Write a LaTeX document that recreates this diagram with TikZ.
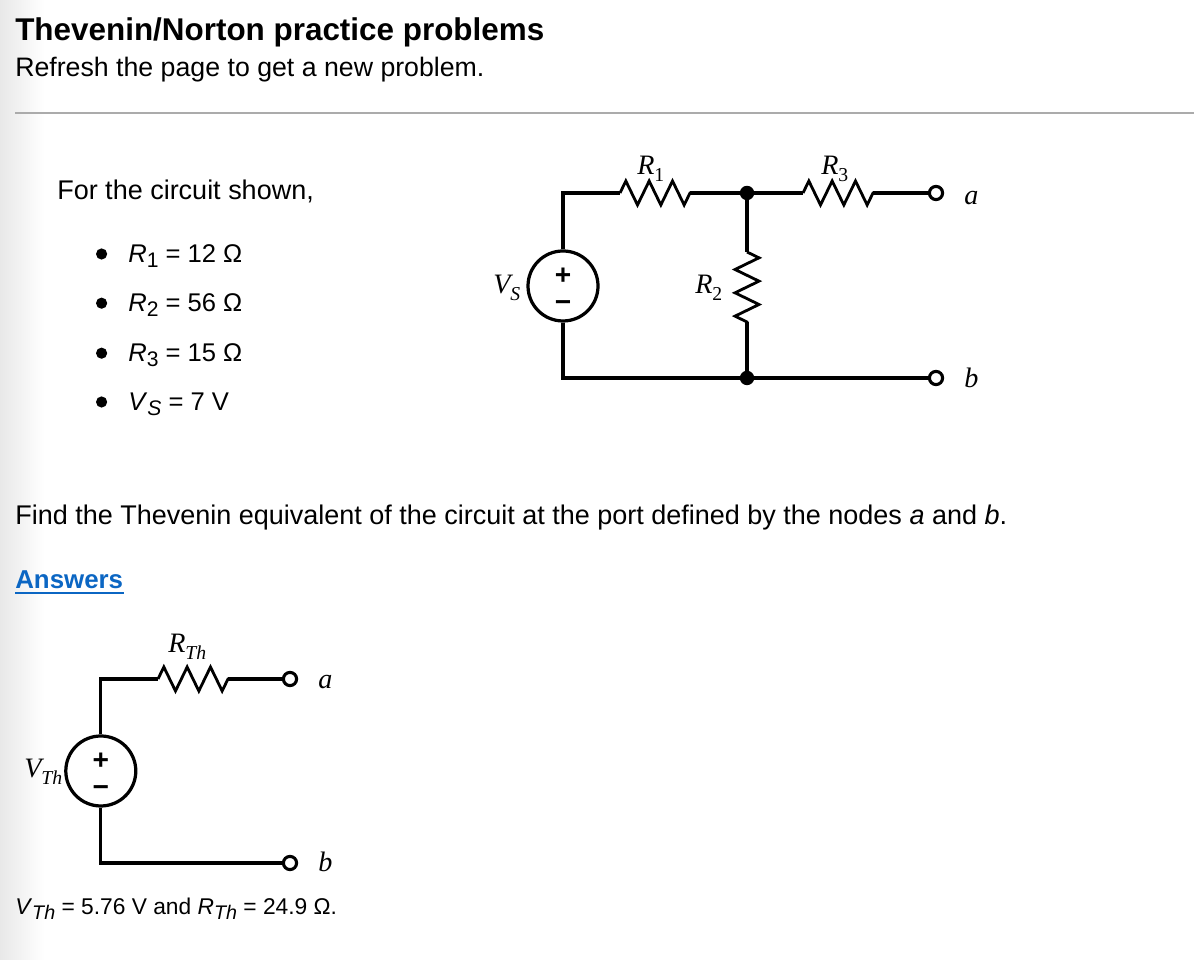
\documentclass[tikz,border=0pt]{standalone}
\usepackage{fontspec}
\setmainfont{Liberation Sans}
\newfontfamily\circfont{Liberation Serif}
\usetikzlibrary{decorations.pathmorphing}
\definecolor{linkblue}{HTML}{0B66C3}
\definecolor{rulegray}{HTML}{ABABAB}
\tikzset{
  wire/.style={black, line width=2.2pt},
  resistor/.style={black, line width=2pt, decorate, decoration={zigzag, segment length=0.5833cm, amplitude=0.3cm}},
  source/.style={circle, draw, fill=white, line width=2.3pt, minimum size=1.75cm, inner sep=0},
  junction/.style={circle, fill=black, minimum size=0.36cm, inner sep=0},
  terminal/.style={circle, draw, fill=white, line width=2.2pt, minimum size=0.33cm, inner sep=0},
  txt/.style={anchor=base west, inner sep=0, font=\fontsize{19.2}{22}\selectfont},
  listtxt/.style={anchor=base west, inner sep=0, font=\fontsize{18.2}{22}\selectfont},
  circlbl/.style={anchor=base west, inner sep=0, font=\circfont\fontsize{20}{24}\selectfont\itshape},
  polarity/.style={inner sep=0, font=\bfseries\fontsize{20}{22}\selectfont},
  listdot/.style={circle, fill=black, minimum size=0.28cm, inner sep=0},
}
\newcommand{\lowtxt}[1]{\raisebox{-3.4pt}{\fontsize{15}{15}\selectfont #1}}
\newcommand{\lowres}[1]{\raisebox{-3.4pt}{\fontsize{14}{14}\selectfont #1}}
\newcommand{\lowcirc}[1]{\raisebox{-4.8pt}{\fontsize{14}{14}\selectfont #1}}
\begin{document}
\begin{tikzpicture}
\useasboundingbox (0,0) rectangle (29.85,24);
\shade [left color=black!9, right color=white, draw=none] (0,0) rectangle (1.1,24);

% page text
\node [txt, font=\bfseries\fontsize{22.35}{26}\selectfont] (title) at (0.375,22.975) {Thevenin/Norton practice problems};
\node [txt, font=\fontsize{19}{22}\selectfont] (subtitle) at (0.375,22.075) {Refresh the page to get a new problem.};
\draw [rulegray, line width=1.5pt] (0.375,21.17) -- (29.85,21.17);

\node [txt] (intro) at (1.425,19.005) {For the circuit shown,};
\node [listdot] (dot1) at (2.54,17.65) {};
\node [listdot] (dot2) at (2.54,16.42) {};
\node [listdot] (dot3) at (2.54,15.17) {};
\node [listdot] (dot4) at (2.54,13.95) {};
\node [listtxt] (val1) at (3.2,17.425) {\textit{R}\lowtxt{1} = 12 Ω};
\node [listtxt] (val2) at (3.2,16.2) {\textit{R}\lowtxt{2} = 56 Ω};
\node [listtxt] (val3) at (3.2,14.95) {\textit{R}\lowtxt{3} = 15 Ω};
\node [listtxt] (val4) at (3.2,13.725) {\textit{V}\lowtxt{\textit{S}} = 7 V};
\node [txt] (find) at (0.375,10.875) {Find the Thevenin equivalent of the circuit at the port defined by the nodes \textit{a} and \textit{b}.};
\node [txt, font=\bfseries\fontsize{18.4}{22}\selectfont, text=linkblue] (answers) at (0.375,9.275) {Answers};
\draw [linkblue, line width=1.4pt] (answers.base west)++(0,-0.09) -- ++(2.72,0);
\node [txt, font=\fontsize{16.2}{20}\selectfont] (result) at (0.375,1.125) {\textit{V}\lowres{\textit{Th}} = 5.76 V and \textit{R}\lowres{\textit{Th}} = 24.9 Ω.};

% given circuit
\node [source] (vs) at (14.075,16.85) {};
\node [junction] (top) at (18.675,19.175) {};
\node [junction] (bot) at (18.675,14.55) {};
\node [terminal] (a) at (23.4,19.175) {};
\node [terminal] (b) at (23.4,14.55) {};
\coordinate (r1l) at (15.5,19.175);
\coordinate (r1r) at (17.25,19.175);
\coordinate (r2t) at (18.675,17.7);
\coordinate (r2b) at (18.675,15.95);
\coordinate (r3l) at (20.075,19.175);
\coordinate (r3r) at (21.825,19.175);
\draw [wire] (vs.north) |- (r1l);
\draw [resistor] (r1l) -- (r1r);
\draw [wire] (r1r) -- (top);
\draw [wire] (top) -- (r3l);
\draw [resistor] (r3l) -- (r3r);
\draw [wire] (r3r) -- (a);
\draw [wire] (top) -- (r2t);
\draw [resistor] (r2t) -- (r2b);
\draw [wire] (r2b) -- (bot);
\draw [wire] (vs.south) |- (bot);
\draw [wire] (bot) -- (b);
\node [polarity] (vsp) at (14.075,17.1) {+};
\node [polarity] (vsm) at (14.075,16.35) {−};
\node [circlbl] (r1lbl) at (15.925,19.625) {R\lowcirc{\upshape 1}};
\node [circlbl] (r2lbl) at (17.375,16.65) {R\lowcirc{\upshape 2}};
\node [circlbl] (r3lbl) at (20.525,19.625) {R\lowcirc{\upshape 3}};
\node [circlbl] (vslbl) at (12.325,16.65) {V\lowcirc{S}};
\node [circlbl] (albl) at (24.1,18.875) {a};
\node [circlbl] (blbl) at (24.1,14.3) {b};

% equivalent circuit
\node [source] (vth) at (2.52,4.725) {};
\node [terminal] (a2) at (7.25,7.025) {};
\node [terminal] (b2) at (7.25,2.425) {};
\coordinate (rthl) at (3.95,7.025);
\coordinate (rthr) at (5.7,7.025);
\draw [wire] (vth.north) |- (rthl);
\draw [resistor] (rthl) -- (rthr);
\draw [wire] (rthr) -- (a2);
\draw [wire] (vth.south) |- (b2);
\node [polarity] (vthp) at (2.52,4.975) {+};
\node [polarity] (vthm) at (2.52,4.225) {−};
\node [circlbl] (rthlbl) at (4.2,7.675) {R\lowcirc{Th}};
\node [circlbl] (vthlbl) at (0.6,4.55) {V\lowcirc{Th}};
\node [circlbl] (a2lbl) at (7.95,6.775) {a};
\node [circlbl] (b2lbl) at (7.95,2.2) {b};
\end{tikzpicture}
\end{document}
